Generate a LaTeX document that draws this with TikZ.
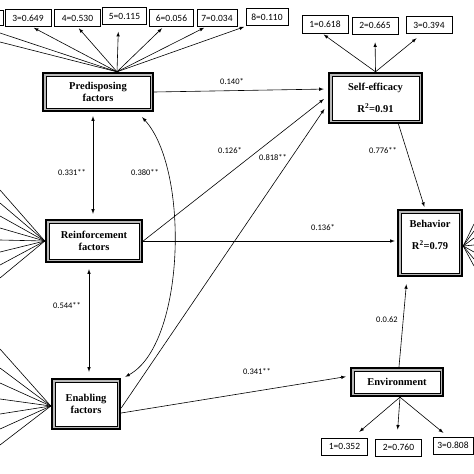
\documentclass[tikz,border=0pt]{standalone}
\usepackage{fontspec}
\setmainfont{Liberation Serif}
\newfontfamily\carl{Carlito}
\usepackage{tikz}

\begin{document}
\begin{tikzpicture}[x=1pt, y=-1pt, line width=0.6pt, >=latex,
  factor/.style={draw, line width=2.4pt, fill=gray!55, align=center, inner sep=0pt,
    font=\bfseries\fontsize{10.5}{12.5}\selectfont,
    path picture={\draw[line width=0.8pt, fill=white]
      ([shift={(3pt,-3pt)}]path picture bounding box.north west) rectangle
      ([shift={(-3pt,3pt)}]path picture bounding box.south east);}},
  load/.style={draw, line width=0.7pt, minimum width=46pt, minimum height=17pt, inner sep=1pt,
    font=\carl\fontsize{9.5}{11}\selectfont},
  coef/.style={inner sep=1pt, font=\carl\fontsize{8.5}{10}\selectfont}]
\useasboundingbox (0,0) rectangle (474,474);

\node[factor, minimum width=110pt, minimum height=38pt] (pre) at (98,92) {Predisposing\\factors};
\node[factor, minimum width=93pt, minimum height=50pt] (self) at (375.5,98) {Self-efficacy\\[9pt]R\textsuperscript{2}=0.91};
\node[factor, minimum width=96pt, minimum height=42pt] (reinf) at (94,241) {Reinforcement\\factors};
\node[factor, minimum width=64pt, minimum height=66pt] (behav) at (430,243) {Behavior\\[10pt]R\textsuperscript{2}=0.79\\[4pt]~};
\node[factor, minimum width=68pt, minimum height=50pt] (enab) at (86,404) {Enabling\\factors};
\node[factor, minimum width=92pt, minimum height=28pt] (env) at (397,382) {Environment};

\node[load] (p3) at (28,18) {3=0.649};
\node[load] (p4) at (77.5,18) {4=0.530};
\node[load, minimum width=44pt] (p5) at (124.5,16) {5=0.115};
\node[load, minimum width=44pt] (p6) at (171.5,18) {6=0.056};
\node[load, minimum width=40pt] (p7) at (217,18) {7=0.034};
\node[load, minimum width=42pt] (p8) at (267,17) {8=0.110};
\node[load, minimum height=18pt] (s1) at (325,24) {1=0.618};
\node[load] (s2) at (375,25.5) {2=0.665};
\node[load] (s3) at (429,25) {3=0.394};
\node[load] (e1) at (344.5,446.5) {1=0.352};
\node[load] (e2) at (398.5,447.5) {2=0.760};
\node[load, minimum width=40pt] (e3) at (453,445.5) {3=0.808};
\draw[line width=0.7pt] (0,10) -- (3,10) -- (3,25) -- (0,25);

\coordinate (pretop) at ([xshift=19pt]pre.north);
\coordinate (p1) at (0,42);
\coordinate (p2) at (0,33);
\draw (pretop) -- (p1);
\draw (pretop) -- (p2);
\draw[->, shorten >=2pt] (pretop) -- ([xshift=4pt]p3.south);
\draw[->, shorten >=2pt] (pretop) -- (p4.south);
\draw[->, shorten >=7pt] (pretop) -- ([xshift=-6pt]p5.south);
\draw[->, shorten >=2pt] (pretop) -- ([xshift=-8pt]p6.south);
\draw[->, shorten >=2pt] (pretop) -- ([xshift=-11pt]p7.south);
\draw[->, shorten >=3pt] (pretop) -- ([xshift=-20pt]p8.south);

\draw[->, shorten >=2pt] (self.north) -- ([xshift=-3pt]s1.south);
\draw[->, shorten >=8pt] (self.north) -- (s2.south);
\draw[->, shorten >=7pt] (self.north) -- ([xshift=-7pt]s3.south);

\draw[->, shorten >=9pt] ([xshift=3pt]env.south) -- ([xshift=8pt]e1.north);
\draw[->, shorten >=9pt] ([xshift=3pt]env.south) -- (e2.north -| env.south);
\draw[->, shorten >=6pt] ([xshift=3pt]env.south) -- ([xshift=-5pt]e3.north);

\coordinate (r1) at (0,190);
\coordinate (r2) at (0,203);
\coordinate (r3) at (0,216);
\coordinate (r4) at (0,228);
\coordinate (r5) at (0,240);
\coordinate (r6) at (0,252);
\coordinate (r7) at (0,265);
\coordinate (r8) at (0,278);
\draw (reinf.west) -- (r1);
\draw (reinf.west) -- (r2);
\draw (reinf.west) -- (r3);
\draw (reinf.west) -- (r4);
\draw (reinf.west) -- (r5);
\draw (reinf.west) -- (r6);
\draw (reinf.west) -- (r7);
\draw (reinf.west) -- (r8);

\coordinate (n1) at (0,349);
\coordinate (n2) at (0,368);
\coordinate (n3) at (0,383);
\coordinate (n4) at (0,399);
\coordinate (n5) at (0,414);
\coordinate (n6) at (0,429);
\coordinate (n7) at (0,445);
\draw ([yshift=-2pt]enab.west) -- (n1);
\draw ([yshift=-2pt]enab.west) -- (n2);
\draw ([yshift=-2pt]enab.west) -- (n3);
\draw ([yshift=-2pt]enab.west) -- (n4);
\draw ([yshift=-2pt]enab.west) -- (n5);
\draw ([yshift=-2pt]enab.west) -- (n6);
\draw ([yshift=-2pt]enab.west) -- (n7);

\coordinate (b1) at (474,224);
\coordinate (b2) at (474,231);
\coordinate (b3) at (474,238);
\coordinate (b4) at (474,245);
\coordinate (b5) at (474,252);
\coordinate (b6) at (474,259);
\coordinate (b7) at (474,266);
\draw ([yshift=-3pt]behav.east) -- (b1);
\draw ([yshift=-3pt]behav.east) -- (b2);
\draw ([yshift=-3pt]behav.east) -- (b3);
\draw ([yshift=-3pt]behav.east) -- (b4);
\draw ([yshift=-3pt]behav.east) -- (b5);
\draw ([yshift=-3pt]behav.east) -- (b6);
\draw ([yshift=-3pt]behav.east) -- (b7);

\draw[->, shorten >=4pt] (pre.east) -- ([yshift=9pt]self.west);
\draw[->, shorten >=5pt] (reinf.east) -- ([yshift=2pt]self.west);
\draw[->, shorten >=6pt] ([yshift=-4pt]enab.east) -- ([yshift=-6pt]self.west);
\draw[->, shorten >=2pt] (reinf.east) -- (behav.west |- reinf.east);
\draw[->, shorten >=2pt] ([xshift=23pt]self.south) -- ([xshift=-5pt]behav.north);
\draw[->, shorten >=7pt] ([xshift=2pt]env.north) -- ([xshift=-23pt]behav.south);
\draw[->, shorten >=4pt] ([yshift=-9pt]enab.east) -- ([yshift=6pt]env.west);
\draw[<->, shorten <=4pt, shorten >=5pt] ([xshift=-5pt]pre.south) -- ([xshift=-1pt]reinf.north);
\draw[<->, shorten <=6pt, shorten >=6pt] ([xshift=-5pt]reinf.south) -- ([xshift=3pt]enab.north);
\draw[<->] ([xshift=-12pt,yshift=-5pt]pre.south east) .. controls (190,170) and (185,345) .. ([xshift=4pt,yshift=1pt]enab.north east);

\node[coef] (c1) at (232,82) {0.140*};
\node[coef] (c2) at (230,151) {0.126*};
\node[coef] (c3) at (273,158) {0.818**};
\node[coef] (c4) at (323,228) {0.136*};
\node[coef] (c5) at (383,151) {0.776**};
\node[coef] (c6) at (387,320) {0.0.62};
\node[coef] (c7) at (257,372) {0.341**};
\node[coef] (c8) at (72,173) {0.331**};
\node[coef] (c9) at (67,306) {0.544**};
\node[coef] (c10) at (145,173) {0.380**};
\end{tikzpicture}
\end{document}
